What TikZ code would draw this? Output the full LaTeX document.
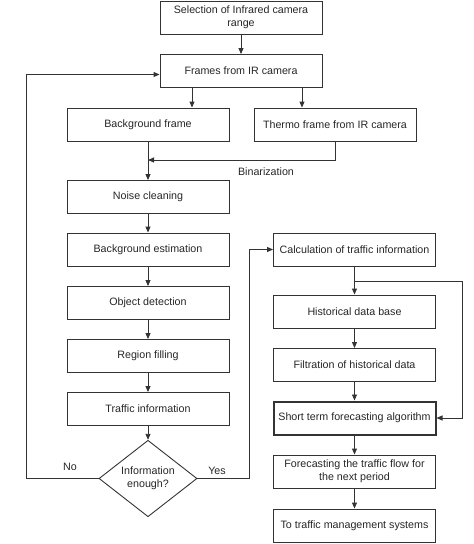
\documentclass[tikz,border=0pt]{standalone}
\usepackage{fontspec}
\setmainfont{Liberation Sans}
\usetikzlibrary{arrows.meta,shapes.geometric}
\begin{document}
\begin{tikzpicture}[x=1pt,y=-1pt,
  every node/.style={font=\fontsize{10.7}{13}\selectfont, text=black!85},
  box/.style={draw=black!80, line width=0.9pt, minimum width=162pt, minimum height=33pt, inner sep=1pt, align=center},
  thickbox/.style={box, line width=2pt},
  dec/.style={draw=black!80, line width=0.9pt, shape=diamond, minimum width=98pt, minimum height=65pt, inner sep=0pt, align=center},
  arr/.style={draw=black!80, line width=0.9pt, -{Triangle[length=6pt,width=5pt]}},
  lbl/.style={inner sep=0pt}]
\useasboundingbox (0,0) rectangle (474,544);
% left column
\node[box] (sel) at (241,17.5) {Selection of Infrared camera\\range};
\node[box] (frames) at (241,71) {Frames from IR camera};
\node[box] (bg) at (148,124.5) {Background frame};
\node[box] (thermo) at (335,124.5) {Thermo frame from IR camera};
\node[box] (noise) at (148,197) {Noise cleaning};
\node[box] (bgest) at (148,249.5) {Background estimation};
\node[box] (obj) at (148,303) {Object detection};
\node[box] (reg) at (148,356) {Region filling};
\node[box] (tinfo) at (148,409) {Traffic information};
\node[dec] (dec) at (148,478.5) {Information\\enough?};
% right column
\node[box] (calc) at (354.5,249.5) {Calculation of traffic information};
\node[box] (hist) at (354.5,311.5) {Historical data base};
\node[box] (filt) at (354.5,365) {Filtration of historical data};
\node[thickbox] (short) at (354.5,418) {Short term forecasting algorithm};
\node[box] (fore) at (354.5,471.5) {Forecasting the traffic flow for\\the next period};
\node[box] (tms) at (354.5,525.5) {To traffic management systems};
% labels
\node[lbl] (bin) at (266,171.5) {Binarization};
\node[lbl] (no) at (70,467) {No};
\node[lbl] (yes) at (217,471) {Yes};
% coordinates
\coordinate (fb) at (192,0);
\coordinate (ft) at (302,0);
\coordinate (jn) at (148,160);
\coordinate (loop) at (26,74.5);
\coordinate (yc) at (249,249.5);
\coordinate (br) at (354.5,281);
\coordinate (rc) at (462,281);
% connectors
\draw[arr] (sel) -- (frames);
\draw[arr] (frames.south -| fb) -- (bg.north -| fb);
\draw[arr] (frames.south -| ft) -- (thermo.north -| ft);
\draw[arr] (thermo.south) |- (jn);
\draw[arr] (bg) -- (noise);
\draw[arr] (noise) -- (bgest);
\draw[arr] (bgest) -- (obj);
\draw[arr] (obj) -- (reg);
\draw[arr] (reg) -- (tinfo);
\draw[arr] (tinfo) -- (dec);
\draw[arr] (dec.west) -| (loop) -- (frames.west |- loop);
\draw[arr] (dec.east) -| (yc) -- (calc.west);
\draw[arr] (calc) -- (hist);
\draw[arr] (br) -- (rc) |- (short.east);
\draw[arr] (hist) -- (filt);
\draw[arr] (filt) -- (short);
\draw[arr] (short) -- (fore);
\draw[arr] (fore) -- (tms);
\end{tikzpicture}
\end{document}
